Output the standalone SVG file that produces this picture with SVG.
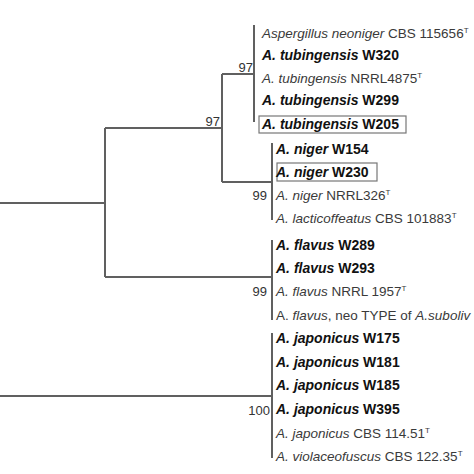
<svg xmlns="http://www.w3.org/2000/svg" width="474" height="474" viewBox="0 0 474 474">
<style>
text{font-family:"Liberation Sans",Arial,sans-serif;font-size:13.5px;fill:#3a3a3a}
.b{font-weight:bold;font-size:14px;fill:#111}
.i{font-style:italic}
.sup{font-size:8px}
.bs{font-size:13px;fill:#333}
.br{stroke:#606060;stroke-width:2;fill:none}
.box{stroke:#777;stroke-width:1.2;fill:none}
</style>
<rect width="474" height="474" fill="#fff"/>
<g id="connectors">
<path class="br" d="M0 203H105M105 128V277M105 128H222M222 74V182M222 74H254M254 25V122M222 182H272M272 143V220M105 277H272M272 240V320M0 396H272M272 333V458"/>
</g>
<g id="labels">
<text class="bs" x="253" y="72" text-anchor="end">97</text>
<text class="bs" x="220" y="126" text-anchor="end">97</text>
<text class="bs" x="267" y="200" text-anchor="end">99</text>
<text class="bs" x="267" y="296" text-anchor="end">99</text>
<text class="bs" x="270" y="415" text-anchor="end">100</text>
</g>
<g id="tubingensis">
<text x="262" y="38"><tspan class="i">Aspergillus neoniger</tspan> CBS 115656<tspan class="sup" dy="-5">T</tspan></text>
<text class="b" x="262" y="60"><tspan class="i">A. tubingensis</tspan> W320</text>
<text x="262" y="83"><tspan class="i">A. tubingensis</tspan> NRRL4875<tspan class="sup" dy="-5">T</tspan></text>
<text class="b" x="262" y="105"><tspan class="i">A. tubingensis</tspan> W299</text>
<g id="w205"><rect class="box" x="259" y="116" width="147" height="17"/>
<text class="b" x="262" y="129"><tspan class="i">A. tubingensis</tspan> W205</text></g>
</g>
<g id="niger">
<text class="b" x="276" y="154"><tspan class="i">A. niger</tspan> W154</text>
<g id="w230"><rect class="box" x="277" y="163" width="100" height="18"/>
<text class="b" x="276" y="177"><tspan class="i">A. niger</tspan> W230</text></g>
<text x="276" y="200"><tspan class="i">A. niger</tspan> NRRL326<tspan class="sup" dy="-5">T</tspan></text>
<text x="276" y="223"><tspan class="i">A. lacticoffeatus</tspan> CBS 101883<tspan class="sup" dy="-5">T</tspan></text>
</g>
<g id="flavus">
<text class="b" x="276" y="250"><tspan class="i">A. flavus</tspan> W289</text>
<text class="b" x="276" y="273"><tspan class="i">A. flavus</tspan> W293</text>
<text x="276" y="296"><tspan class="i">A. flavus</tspan> NRRL 1957<tspan class="sup" dy="-5">T</tspan></text>
<text x="276" y="320">A. <tspan class="i">flavus</tspan>, neo TYPE of <tspan class="i">A.suboliv</tspan></text>
</g>
<g id="japonicus">
<text class="b" x="276" y="343"><tspan class="i">A. japonicus</tspan> W175</text>
<text class="b" x="276" y="367"><tspan class="i">A. japonicus</tspan> W181</text>
<text class="b" x="276" y="390"><tspan class="i">A. japonicus</tspan> W185</text>
<text class="b" x="276" y="414"><tspan class="i">A. japonicus</tspan> W395</text>
<text x="276" y="438"><tspan class="i">A. japonicus</tspan> CBS 114.51<tspan class="sup" dy="-5">T</tspan></text>
<text x="276" y="461"><tspan class="i">A. violaceofuscus</tspan> CBS 122.35<tspan class="sup" dy="-5">T</tspan></text>
</g>
</svg>
